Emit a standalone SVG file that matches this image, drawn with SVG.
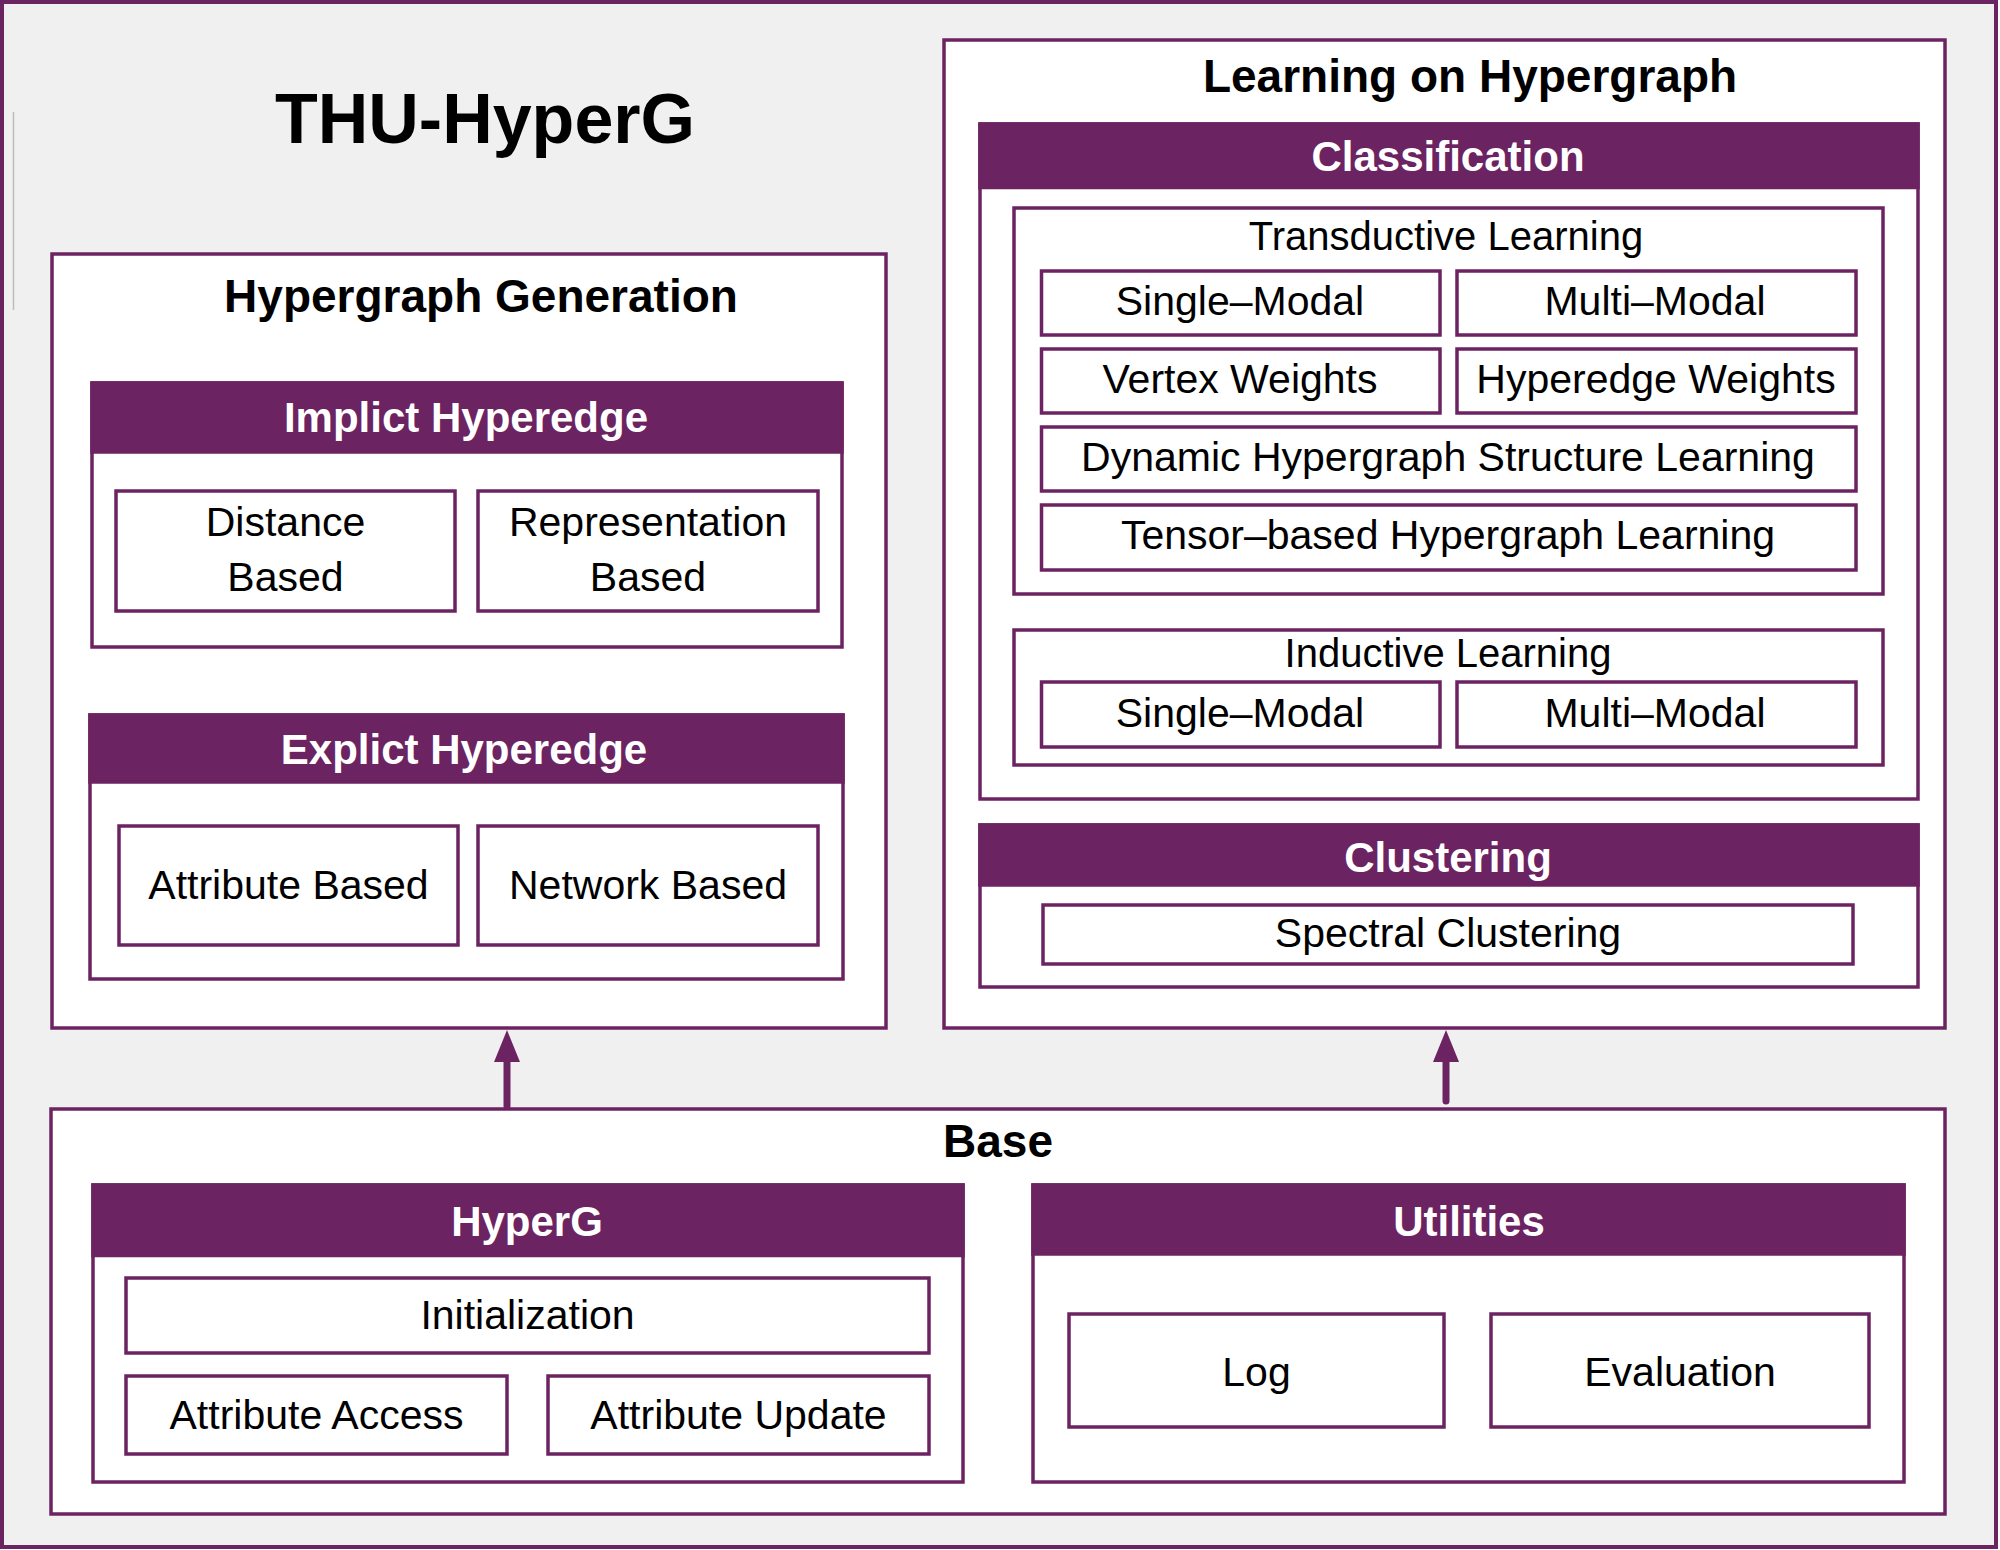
<svg xmlns="http://www.w3.org/2000/svg" width="2000" height="1550" viewBox="0 0 2000 1550">
<defs>
<style>
.box{fill:#ffffff;stroke:#6c2361;stroke-width:3.5}
.item{fill:#ffffff;stroke:#6c2361;stroke-width:3.5}
.hdr{fill:#6c2361;stroke:#6c2361;stroke-width:3.5}
.t{font-family:"Liberation Sans",Arial,Helvetica,sans-serif;text-anchor:middle;fill:#000}
.title{font-weight:bold;font-size:46px}
.big{font-weight:bold;font-size:70px}
.ht{font-weight:bold;font-size:42px;fill:#ffffff}
.it{font-size:41px}
.sub{font-size:40px}
.conn{stroke:#6c2361;stroke-width:7;stroke-linecap:round;fill:none}
.head{fill:#6c2361}
</style>
</defs>
<rect x="2" y="2" width="1994" height="1545" fill="#f0f0f0" stroke="#6c2361" stroke-width="4"/>
<line x1="13.5" y1="112" x2="13.5" y2="310" stroke="#bdbdbd" stroke-width="1.5"/>
<text class="t big" x="485" y="143">THU-HyperG</text>

<g id="hypergraph-generation">
<rect class="box" x="52" y="254" width="834" height="774"/>
<text class="t title" x="481" y="312">Hypergraph Generation</text>
</g>
<g id="implicit-hyperedge">
<rect class="box" x="92" y="383" width="750" height="264"/>
<rect class="hdr" x="92" y="383" width="750" height="69"/>
<text class="t ht" x="466" y="432">Implict Hyperedge</text>
</g>
<g id="distance-based">
<rect class="item" x="116" y="491" width="339" height="120"/>
<text class="t it" x="285.5" y="536">Distance</text>
<text class="t it" x="285.5" y="591">Based</text>
</g>
<g id="representation-based">
<rect class="item" x="478" y="491" width="340" height="120"/>
<text class="t it" x="648" y="536">Representation</text>
<text class="t it" x="648" y="591">Based</text>
</g>
<g id="explicit-hyperedge">
<rect class="box" x="90" y="715" width="753" height="264"/>
<rect class="hdr" x="90" y="715" width="753" height="67"/>
<text class="t ht" x="464" y="764">Explict Hyperedge</text>
</g>
<g id="attribute-based">
<rect class="item" x="119" y="826" width="339" height="119"/>
<text class="t it" x="288.5" y="899">Attribute Based</text>
</g>
<g id="network-based">
<rect class="item" x="478" y="826" width="340" height="119"/>
<text class="t it" x="648" y="899">Network Based</text>
</g>

<g id="learning-on-hypergraph">
<rect class="box" x="944" y="40" width="1001" height="988"/>
<text class="t title" x="1470" y="92">Learning on Hypergraph</text>
</g>
<g id="classification">
<rect class="box" x="980" y="124" width="938" height="675"/>
<rect class="hdr" x="980" y="124" width="938" height="63.5"/>
<text class="t ht" x="1448" y="171">Classification</text>
</g>
<g id="transductive-learning">
<rect class="box" x="1014" y="208" width="869" height="386"/>
<text class="t sub" x="1446" y="250">Transductive Learning</text>
</g>
<g id="t-single-modal">
<rect class="item" x="1041.5" y="271" width="398.5" height="64"/>
<text class="t it" x="1240" y="315">Single–Modal</text>
</g>
<g id="t-multi-modal">
<rect class="item" x="1457" y="271" width="399" height="64"/>
<text class="t it" x="1655" y="315">Multi–Modal</text>
</g>
<g id="vertex-weights">
<rect class="item" x="1041.5" y="349" width="398.5" height="64"/>
<text class="t it" x="1240" y="393">Vertex Weights</text>
</g>
<g id="hyperedge-weights">
<rect class="item" x="1457" y="349" width="399" height="64"/>
<text class="t it" x="1656" y="393">Hyperedge Weights</text>
</g>
<g id="dynamic-structure">
<rect class="item" x="1041.5" y="427" width="814.5" height="64"/>
<text class="t it" x="1448" y="471">Dynamic Hypergraph Structure Learning</text>
</g>
<g id="tensor-based">
<rect class="item" x="1041.5" y="505" width="814.5" height="65"/>
<text class="t it" x="1448" y="549">Tensor–based Hypergraph Learning</text>
</g>
<g id="inductive-learning">
<rect class="box" x="1014" y="630" width="869" height="135"/>
<text class="t sub" x="1448" y="667">Inductive Learning</text>
</g>
<g id="i-single-modal">
<rect class="item" x="1041.5" y="682" width="398.5" height="65"/>
<text class="t it" x="1240" y="727">Single–Modal</text>
</g>
<g id="i-multi-modal">
<rect class="item" x="1457" y="682" width="399" height="65"/>
<text class="t it" x="1655" y="727">Multi–Modal</text>
</g>
<g id="clustering">
<rect class="box" x="980" y="825" width="938" height="162"/>
<rect class="hdr" x="980" y="825" width="938" height="60"/>
<text class="t ht" x="1448" y="872">Clustering</text>
</g>
<g id="spectral-clustering">
<rect class="item" x="1043" y="905" width="810" height="59"/>
<text class="t it" x="1448" y="947">Spectral Clustering</text>
</g>

<g id="base">
<rect class="box" x="51" y="1109" width="1894" height="405"/>
<text class="t title" x="998" y="1157">Base</text>
</g>
<g id="hyperg">
<rect class="box" x="93" y="1185" width="870" height="297"/>
<rect class="hdr" x="93" y="1185" width="870" height="70.5"/>
<text class="t ht" x="527" y="1236">HyperG</text>
</g>
<g id="initialization">
<rect class="item" x="126" y="1278" width="803" height="75"/>
<text class="t it" x="527.5" y="1329">Initialization</text>
</g>
<g id="attribute-access">
<rect class="item" x="126" y="1376" width="381" height="78"/>
<text class="t it" x="316.5" y="1429">Attribute Access</text>
</g>
<g id="attribute-update">
<rect class="item" x="548" y="1376" width="381" height="78"/>
<text class="t it" x="738.5" y="1429">Attribute Update</text>
</g>
<g id="utilities">
<rect class="box" x="1033" y="1185" width="871" height="297"/>
<rect class="hdr" x="1033" y="1185" width="871" height="69"/>
<text class="t ht" x="1469" y="1236">Utilities</text>
</g>
<g id="log">
<rect class="item" x="1069" y="1314" width="375" height="113"/>
<text class="t it" x="1256.5" y="1386">Log</text>
</g>
<g id="evaluation">
<rect class="item" x="1491" y="1314" width="378" height="113"/>
<text class="t it" x="1680" y="1386">Evaluation</text>
</g>

<g id="connectors">
<line class="conn" x1="507" y1="1106" x2="507" y2="1056"/>
<polygon class="head" points="507,1030 494,1062 520,1062"/>
<line class="conn" x1="1446" y1="1101" x2="1446" y2="1056"/>
<polygon class="head" points="1446,1030 1433,1062 1459,1062"/>
</g>
</svg>
